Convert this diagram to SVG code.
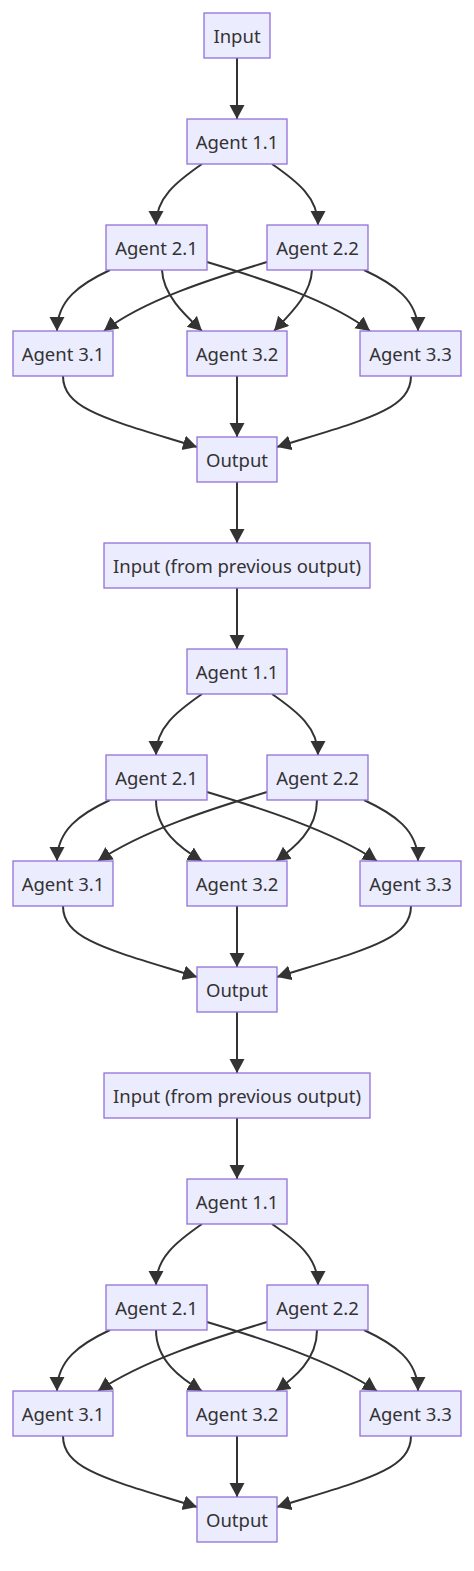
<svg xmlns="http://www.w3.org/2000/svg" width="474" height="1571" viewBox="0 0 474 1571">
<style>
.node rect{fill:#ECECFF;stroke:#9370DB;stroke-width:1.3px}
.node text{font-family:"Noto Sans","Open Sans","DejaVu Sans",sans-serif;font-size:18.5px;fill:#333333;text-anchor:middle}
.edge{fill:none;stroke:#333333;stroke-width:2px;marker-end:url(#arrow)}
</style>
<defs>
<marker id="arrow" markerUnits="userSpaceOnUse" markerWidth="15" markerHeight="16" refX="14" refY="7.5" orient="auto">
<path d="M0,0 L14,7.5 L0,15 z" fill="#333333"/>
</marker>
</defs>
<rect width="474" height="1571" fill="#ffffff"/>
<g id="connectors">
<g id="edges-block1">
<path class="edge" d="M237,58 L237,119"/>
<path class="edge" d="M202,164 C176,182 156,198 156,225"/>
<path class="edge" d="M272,164 C298,182 318,198 318,225"/>
<path class="edge" d="M110,270 C80,284 57,300 57,331"/>
<path class="edge" d="M162,270 C163,295 185,315 202,331"/>
<path class="edge" d="M207,262 C260,278 330,300 370,331"/>
<path class="edge" d="M267,262 C214,278 144,300 104,331"/>
<path class="edge" d="M312,270 C311,295 289,315 274,331"/>
<path class="edge" d="M364,270 C394,284 418,300 418,331"/>
<path class="edge" d="M63,376 C63,410 110,420 197,447"/>
<path class="edge" d="M237,376 L237,437"/>
<path class="edge" d="M411,376 C411,410 364,420 277,447"/>
<path class="edge" d="M237,482 L237,543"/>
</g>
<g id="edges-block2" transform="translate(0,530)">
<path class="edge" d="M237,58 L237,119"/>
<path class="edge" d="M202,164 C176,182 156,198 156,225"/>
<path class="edge" d="M272,164 C298,182 318,198 318,225"/>
<path class="edge" d="M110,270 C80,284 57,300 57,331"/>
<path class="edge" d="M156,270 C156,300 180,318 202,331"/>
<path class="edge" d="M207,262 C260,278 330,300 377,331"/>
<path class="edge" d="M267,262 C214,278 144,300 98,331"/>
<path class="edge" d="M317,270 C317,300 294,318 276,331"/>
<path class="edge" d="M364,270 C394,284 418,300 418,331"/>
<path class="edge" d="M63,376 C63,410 110,420 197,447"/>
<path class="edge" d="M237,376 L237,437"/>
<path class="edge" d="M411,376 C411,410 364,420 277,447"/>
<path class="edge" d="M237,482 L237,543"/>
</g>
<g id="edges-block3" transform="translate(0,1060)">
<path class="edge" d="M237,58 L237,119"/>
<path class="edge" d="M202,164 C176,182 156,198 156,225"/>
<path class="edge" d="M272,164 C298,182 318,198 318,225"/>
<path class="edge" d="M110,270 C80,284 57,300 57,331"/>
<path class="edge" d="M156,270 C156,300 180,318 202,331"/>
<path class="edge" d="M207,262 C260,278 330,300 377,331"/>
<path class="edge" d="M267,262 C214,278 144,300 98,331"/>
<path class="edge" d="M317,270 C317,300 294,318 276,331"/>
<path class="edge" d="M364,270 C394,284 418,300 418,331"/>
<path class="edge" d="M63,376 C63,410 110,420 197,447"/>
<path class="edge" d="M237,376 L237,437"/>
<path class="edge" d="M411,376 C411,410 364,420 277,447"/>
</g>
</g>
<g id="nodes">
<g id="input1" class="node" transform="translate(237,35.5)"><rect x="-33" y="-22.5" width="66" height="45"/><text y="7">Input</text></g>
<g id="agent11_1" class="node" transform="translate(237,141.5)"><rect x="-50" y="-22.5" width="100" height="45"/><text y="7">Agent 1.1</text></g>
<g id="agent21_1" class="node" transform="translate(156.5,247.5)"><rect x="-50.5" y="-22.5" width="101" height="45"/><text y="7">Agent 2.1</text></g>
<g id="agent22_1" class="node" transform="translate(317.5,247.5)"><rect x="-50.5" y="-22.5" width="101" height="45"/><text y="7">Agent 2.2</text></g>
<g id="agent31_1" class="node" transform="translate(63,353.5)"><rect x="-50" y="-22.5" width="100" height="45"/><text y="7">Agent 3.1</text></g>
<g id="agent32_1" class="node" transform="translate(237,353.5)"><rect x="-50" y="-22.5" width="100" height="45"/><text y="7">Agent 3.2</text></g>
<g id="agent33_1" class="node" transform="translate(410.5,353.5)"><rect x="-50.5" y="-22.5" width="101" height="45"/><text y="7">Agent 3.3</text></g>
<g id="output1" class="node" transform="translate(237,459.5)"><rect x="-40" y="-22.5" width="80" height="45"/><text y="7">Output</text></g>

<g id="input2" class="node" transform="translate(237,565.5)"><rect x="-133" y="-22.5" width="266" height="45"/><text y="7">Input (from previous output)</text></g>
<g id="agent11_2" class="node" transform="translate(237,671.5)"><rect x="-50" y="-22.5" width="100" height="45"/><text y="7">Agent 1.1</text></g>
<g id="agent21_2" class="node" transform="translate(156.5,777.5)"><rect x="-50.5" y="-22.5" width="101" height="45"/><text y="7">Agent 2.1</text></g>
<g id="agent22_2" class="node" transform="translate(317.5,777.5)"><rect x="-50.5" y="-22.5" width="101" height="45"/><text y="7">Agent 2.2</text></g>
<g id="agent31_2" class="node" transform="translate(63,883.5)"><rect x="-50" y="-22.5" width="100" height="45"/><text y="7">Agent 3.1</text></g>
<g id="agent32_2" class="node" transform="translate(237,883.5)"><rect x="-50" y="-22.5" width="100" height="45"/><text y="7">Agent 3.2</text></g>
<g id="agent33_2" class="node" transform="translate(410.5,883.5)"><rect x="-50.5" y="-22.5" width="101" height="45"/><text y="7">Agent 3.3</text></g>
<g id="output2" class="node" transform="translate(237,989.5)"><rect x="-40" y="-22.5" width="80" height="45"/><text y="7">Output</text></g>

<g id="input3" class="node" transform="translate(237,1095.5)"><rect x="-133" y="-22.5" width="266" height="45"/><text y="7">Input (from previous output)</text></g>
<g id="agent11_3" class="node" transform="translate(237,1201.5)"><rect x="-50" y="-22.5" width="100" height="45"/><text y="7">Agent 1.1</text></g>
<g id="agent21_3" class="node" transform="translate(156.5,1307.5)"><rect x="-50.5" y="-22.5" width="101" height="45"/><text y="7">Agent 2.1</text></g>
<g id="agent22_3" class="node" transform="translate(317.5,1307.5)"><rect x="-50.5" y="-22.5" width="101" height="45"/><text y="7">Agent 2.2</text></g>
<g id="agent31_3" class="node" transform="translate(63,1413.5)"><rect x="-50" y="-22.5" width="100" height="45"/><text y="7">Agent 3.1</text></g>
<g id="agent32_3" class="node" transform="translate(237,1413.5)"><rect x="-50" y="-22.5" width="100" height="45"/><text y="7">Agent 3.2</text></g>
<g id="agent33_3" class="node" transform="translate(410.5,1413.5)"><rect x="-50.5" y="-22.5" width="101" height="45"/><text y="7">Agent 3.3</text></g>
<g id="output3" class="node" transform="translate(237,1519.5)"><rect x="-40" y="-22.5" width="80" height="45"/><text y="7">Output</text></g>
</g>
</svg>
